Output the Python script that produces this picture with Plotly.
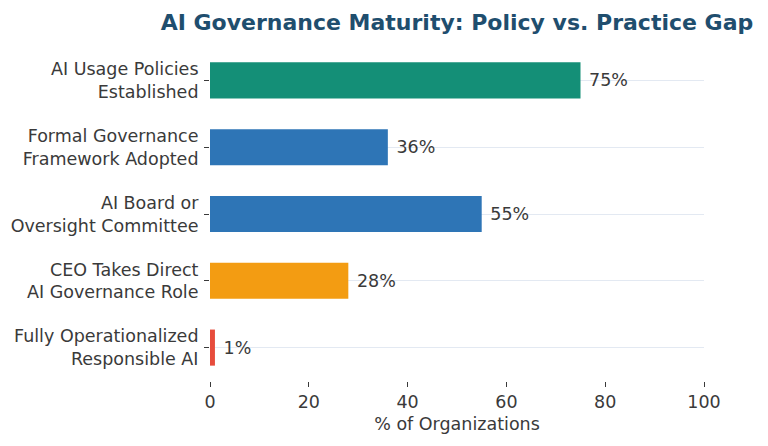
import plotly.graph_objects as go

categories = ["AI Usage Policies<br>Established",
              "Formal Governance<br>Framework Adopted",
              "AI Board or<br>Oversight Committee",
              "CEO Takes Direct<br>AI Governance Role",
              "Fully Operationalized<br>Responsible AI"]
values = [75, 36, 55, 28, 1]
colors = ["#148f77", "#2e75b6", "#2e75b6", "#f39c12", "#e74c3c"]

TXT = "#3a3a3a"
fig = go.Figure(go.Bar(
    x=values, y=categories, orientation="h",
    marker=dict(color=colors, line=dict(width=0)),
    width=0.54,
    text=[f" {v}%" for v in values], textposition="outside",
    textfont=dict(size=17.5, color=TXT, family="DejaVu Sans"),
    cliponaxis=False,
))

fig.update_layout(
    width=768, height=446,
    margin=dict(l=210, r=64, t=47, b=65),
    paper_bgcolor="white", plot_bgcolor="white",
    font=dict(family="DejaVu Sans", size=17.5, color=TXT),
    title=dict(text="<b>AI Governance Maturity: Policy vs. Practice Gap</b>",
               x=0.595, xanchor="center", y=0.95, yanchor="middle",
               font=dict(size=22, color="#1f4e6e", family="DejaVu Sans")),
    showlegend=False,
)
fig.update_xaxes(range=[0, 100], tickvals=[0, 20, 40, 60, 80, 100],
                 showgrid=False, zeroline=False, showline=False,
                 ticks="outside", ticklen=5, tickcolor=TXT,
                 tickfont=dict(size=17.5, color=TXT),
                 title=dict(text="% of Organizations", font=dict(size=17.5, color=TXT), standoff=6))
fig.update_yaxes(categoryorder="array", categoryarray=categories[::-1],
                 showgrid=True, gridcolor="#e3e9f2", gridwidth=1, layer="above traces",
                 zeroline=False, showline=False,
                 ticks="outside", ticklen=5, tickcolor=TXT, ticklabelstandoff=2,
                 tickfont=dict(size=17.5, color=TXT))

fig.write_html("out.html")
